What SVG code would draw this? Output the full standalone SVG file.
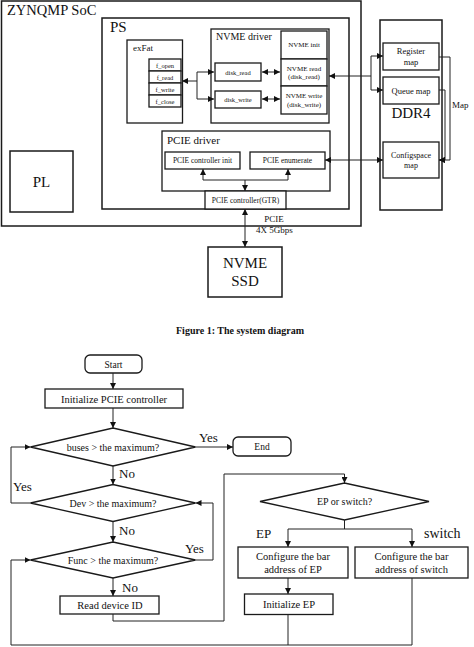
<svg xmlns="http://www.w3.org/2000/svg" width="474" height="647" viewBox="0 0 474 647" font-family="'Liberation Serif', 'Times New Roman', serif">
<defs>
<style>
text{font-family:"Liberation Serif","Times New Roman",serif;fill:#111}
.b{fill:none;stroke:#1a1a1a;stroke-width:1.5}
.s{fill:#fff;stroke:#1a1a1a;stroke-width:1.3}
.c{fill:none;stroke:#222;stroke-width:1}
.m{text-anchor:middle;font-family:"Liberation Serif","Times New Roman",serif}
</style>
<marker id="ah" viewBox="0 0 10 10" refX="10" refY="5" markerWidth="6" markerHeight="6" orient="auto-start-reverse" markerUnits="userSpaceOnUse"><path d="M0,0 L10,5 L0,10 z" fill="#111"/></marker>
</defs>
<rect width="474" height="647" fill="#fff"/>

<g id="soc"><rect x="1.5" y="1" width="359.5" height="225" class="b" stroke="#333"/><text x="7" y="15" font-size="14.5">ZYNQMP SoC</text></g>
<g id="ps"><rect x="102" y="18" width="247" height="191" class="b"/><text x="110" y="32" font-size="15">PS</text></g>
<g id="pl"><rect x="10" y="151" width="63" height="61" class="b"/><text x="41.5" y="187" font-size="15" class="m">PL</text></g>

<g id="exfat"><rect x="127" y="40" width="55.5" height="83" class="s"/><text x="133" y="51" font-size="9">exFat</text>
<rect x="149" y="59" width="32" height="12" class="s"/><text x="165" y="67.5" font-size="6.5" class="m">f_open</text>
<rect x="149" y="71" width="32" height="12" class="s"/><text x="165" y="79.5" font-size="6.5" class="m">f_read</text>
<rect x="149" y="83" width="32" height="12" class="s"/><text x="165" y="91.5" font-size="6.5" class="m">f_write</text>
<rect x="149" y="95" width="32" height="12" class="s"/><text x="165" y="103.5" font-size="6.5" class="m">f_close</text></g>

<g id="nvmedrv"><rect x="211" y="29" width="118" height="94" class="s"/><text x="216" y="40" font-size="10">NVME driver</text>
<rect x="215" y="63" width="46" height="18" class="s"/><text x="238" y="74.5" font-size="6.5" class="m">disk_read</text>
<rect x="215" y="91" width="46" height="17" class="s"/><text x="238" y="102" font-size="6.5" class="m">disk_write</text>
<rect x="281" y="31" width="46" height="28" class="s"/><text x="304" y="47" font-size="7" class="m">NVME init</text>
<rect x="281" y="59" width="46" height="27" class="s"/><text x="304" y="70.5" font-size="7" class="m">NVME read</text><text x="304" y="79" font-size="7" class="m">(disk_read)</text>
<rect x="281" y="86" width="46" height="28" class="s"/><text x="304" y="97.5" font-size="7" class="m">NVME write</text><text x="304" y="106.5" font-size="7" class="m">(disk_write)</text></g>

<g id="pciedrv"><rect x="162" y="131" width="168" height="60" class="s"/><text x="167" y="144" font-size="11">PCIE driver</text>
<rect x="165" y="152" width="75" height="17" class="s"/><text x="202.5" y="163" font-size="7.5" class="m">PCIE controller init</text>
<rect x="250" y="152" width="75" height="17" class="s"/><text x="287.5" y="163" font-size="7.5" class="m">PCIE enumerate</text></g>
<g id="gtr"><rect x="205" y="191" width="81" height="18" class="s"/><text x="245.5" y="203" font-size="7.5" class="m">PCIE controller(GTR)</text></g>

<g id="ddr4"><rect x="380" y="20" width="62" height="190" class="b"/><text x="411" y="118" font-size="15" class="m">DDR4</text>
<rect x="383" y="43" width="56" height="27" class="s"/><text x="411" y="54" font-size="8.5" class="m">Register</text><text x="411" y="65" font-size="8.5" class="m">map</text>
<rect x="383" y="77" width="56" height="27" class="s"/><text x="411" y="93.5" font-size="8.5" class="m">Queue map</text>
<rect x="383" y="142" width="56" height="36" class="s"/><text x="411" y="157.5" font-size="8" class="m">Configspace</text><text x="411" y="168" font-size="8" class="m">map</text></g>
<text x="452" y="108" font-size="9">Map</text>

<g id="ssd"><rect x="208" y="247" width="74" height="50" class="b"/><text x="245" y="268" font-size="15" class="m">NVME</text><text x="245" y="286" font-size="15" class="m">SSD</text></g>
<text x="274" y="222" font-size="9" class="m">PCIE</text><text x="274.5" y="233" font-size="9" class="m">4X 5Gbps</text>

<text x="240" y="334" font-size="10" font-weight="bold" class="m">Figure 1: The system diagram</text>

<g id="start"><rect x="85" y="355" width="57" height="18" rx="5" class="s"/><text x="113.5" y="368" font-size="9.5" class="m">Start</text></g>
<g id="init"><rect x="45" y="389" width="138" height="19" class="s"/><text x="114" y="403" font-size="10.5" class="m">Initialize PCIE controller</text></g>
<g id="d1"><path d="M30.5,447 L113,428 L195.5,447 L113,466 Z" class="s"/><text x="113" y="450.5" font-size="10" class="m">buses &gt; the maximum?</text></g>
<g id="end"><rect x="233" y="437" width="58" height="19" rx="5" class="s"/><text x="262" y="450" font-size="9.5" class="m">End</text></g>
<g id="d2"><path d="M30.5,503 L113,484.5 L195.5,503 L113,521.5 Z" class="s"/><text x="113" y="506.5" font-size="10" class="m">Dev &gt; the maximum?</text></g>
<g id="d3"><path d="M30.5,560 L113,542 L195.5,560 L113,578 Z" class="s"/><text x="113" y="563.5" font-size="10" class="m">Func &gt; the maximum?</text></g>
<g id="readid"><rect x="60" y="596" width="99" height="18" class="s"/><text x="110" y="608.5" font-size="10.5" class="m">Read device ID</text></g>
<g id="d4"><path d="M260,501.5 L344.5,483 L429,501.5 L344.5,520 Z" class="s"/><text x="344.5" y="505" font-size="10" class="m">EP or switch?</text></g>
<g id="cfgep"><rect x="238" y="547" width="110" height="31" class="s"/><text x="293" y="560" font-size="10.5" class="m">Configure the bar</text><text x="293" y="572.5" font-size="10.5" class="m">address of EP</text></g>
<g id="cfgsw"><rect x="355" y="547" width="113" height="31" class="s"/><text x="411.5" y="560" font-size="10.5" class="m">Configure the bar</text><text x="411.5" y="572.5" font-size="10.5" class="m">address of switch</text></g>
<g id="initep"><rect x="244.5" y="594" width="88.5" height="20.5" class="s"/><text x="289" y="607.5" font-size="10.5" class="m">Initialize EP</text></g>

<g id="labels" font-size="13">
<text x="199" y="442">Yes</text><text x="119" y="478">No</text><text x="13" y="491">Yes</text><text x="119" y="535">No</text><text x="185" y="553">Yes</text><text x="122" y="592">No</text>
<text x="256" y="538">EP</text><text x="424" y="538" font-size="14">switch</text>
</g>

<g id="connectors" class="c">
<path d="M197,72 V99"/><path d="M197,72 H214" marker-end="url(#ah)"/><path d="M197,99 H214" marker-end="url(#ah)"/><path d="M197,81 H182" marker-end="url(#ah)"/>
<path d="M262,72 H280" marker-start="url(#ah)" marker-end="url(#ah)"/><path d="M262,99 H280" marker-start="url(#ah)" marker-end="url(#ah)"/>
<path d="M371,76 H329" marker-end="url(#ah)"/><path d="M371,56 V90"/><path d="M371,56 H383" marker-end="url(#ah)"/><path d="M371,90 H383" marker-end="url(#ah)"/>
<path d="M439,57 H450 V160 H439" marker-end="url(#ah)"/><path d="M439,90 H445 V160 H439" marker-end="url(#ah)"/>
<path d="M325,160 H383" marker-start="url(#ah)" marker-end="url(#ah)"/>
<path d="M203,180 H288"/><path d="M203,180 V169" marker-end="url(#ah)"/><path d="M288,180 V169" marker-end="url(#ah)"/><path d="M245,180 V191" marker-end="url(#ah)"/>
<path d="M245,209 V247" marker-start="url(#ah)" marker-end="url(#ah)"/>
<path d="M113,373 V389" marker-end="url(#ah)"/>
<path d="M113,408 V428" marker-end="url(#ah)"/>
<path d="M195.5,447 H233" marker-end="url(#ah)"/>
<path d="M113,466 V484.5" marker-end="url(#ah)"/>
<path d="M30.5,503 H11 V447 H30.5" marker-end="url(#ah)"/>
<path d="M113,521.5 V542" marker-end="url(#ah)"/>
<path d="M195.5,560 H213 V503 H195.5" marker-end="url(#ah)"/>
<path d="M113,578 V596" marker-end="url(#ah)"/>
<path d="M113,614 V621 H224 V474 H344.5 V483" marker-end="url(#ah)"/>
<path d="M344.5,520 V529"/><path d="M288,529 H412"/><path d="M288,529 V547" marker-end="url(#ah)"/><path d="M412,529 V547" marker-end="url(#ah)"/>
<path d="M288,578 V594" marker-end="url(#ah)"/>
<path d="M288,614.5 V645"/><path d="M412,578 V645 H11 V560 H30.5" marker-end="url(#ah)"/>
</g>
</svg>
